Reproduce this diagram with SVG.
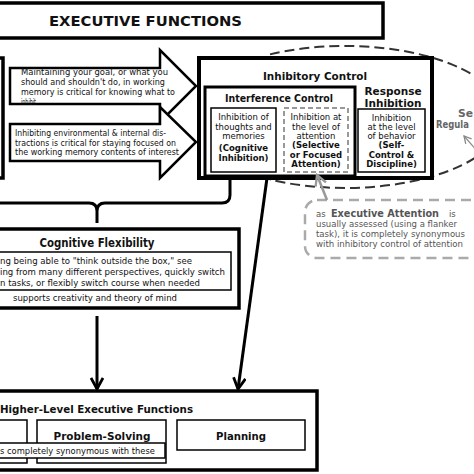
<svg xmlns="http://www.w3.org/2000/svg" width="474" height="474" viewBox="0 0 474 474">
<style>
text{font-family:"DejaVu Sans","Liberation Sans",sans-serif;fill:#111}
.b{font-weight:bold}
.box{fill:#fff;stroke:#000;stroke-width:3.5}
.thin{fill:#fff;stroke:#000;stroke-width:1.5}
.arr{fill:#fff;stroke:#000;stroke-width:2.5;stroke-linejoin:miter}
.t8{font-size:8px}
.t85{font-size:8.5px}
.mid{text-anchor:middle}
.con{fill:none;stroke:#000;stroke-width:3}
.gray{fill:#666}
</style>
<defs>
<marker id="ah" viewBox="0 0 14 14" refX="12" refY="7" markerWidth="14" markerHeight="14" markerUnits="userSpaceOnUse" orient="auto">
<path d="M1,1 L12,7 L1,13" fill="none" stroke="#000" stroke-width="2.8"/>
</marker>
<marker id="ahg" viewBox="0 0 14 14" refX="12" refY="7" markerWidth="13" markerHeight="13" markerUnits="userSpaceOnUse" orient="auto">
<path d="M1,1 L12,7 L1,13" fill="none" stroke="#999" stroke-width="2.5"/>
</marker>
<marker id="ahs" viewBox="0 0 14 14" refX="12" refY="7" markerWidth="9" markerHeight="9" markerUnits="userSpaceOnUse" orient="auto">
<path d="M1,1 L12,7 L1,13" fill="none" stroke="#888" stroke-width="2"/>
</marker>
</defs>

<g id="title">
<rect class="box" x="-20" y="3" width="403" height="35"/>
<text class="b" x="49" y="26" font-size="14" textLength="193" lengthAdjust="spacingAndGlyphs">EXECUTIVE FUNCTIONS</text>
</g>

<g id="working-memory">
<rect class="box" x="-60" y="58" width="63" height="120"/>
</g>

<g id="self-regulation">
<path d="M270,54.4 A159,71 0 1 1 270,179.6" fill="none" stroke="#333" stroke-width="2" stroke-dasharray="10 5"/>
<text class="b gray" x="458" y="117" font-size="10" textLength="15" lengthAdjust="spacingAndGlyphs">Se</text>
<text class="b gray" x="436" y="128" font-size="10" textLength="33" lengthAdjust="spacingAndGlyphs">Regula</text>
</g>

<g id="arrow-goal">
<polygon class="arr" points="10,68 160,68 160,50 196,86 160,122 160,104 10,104"/>
<text class="t85" x="21" y="75" textLength="147" lengthAdjust="spacingAndGlyphs">Maintaining your goal, or what you</text>
<text class="t85" x="21" y="85" textLength="144" lengthAdjust="spacingAndGlyphs">should and shouldn't do, in working</text>
<text class="t85" x="21" y="95" textLength="154" lengthAdjust="spacingAndGlyphs">memory is critical for knowing what to</text>
<text class="t85" x="21" y="105" textLength="15" lengthAdjust="spacingAndGlyphs">inhibit</text>
</g>

<g id="arrow-distractions">
<polygon class="arr" points="10,124 160,124 160,107 196,142 160,178 160,161 10,161"/>
<text class="t85" x="15" y="136" textLength="151" lengthAdjust="spacingAndGlyphs">Inhibiting environmental &amp; internal dis-</text>
<text class="t85" x="15" y="145.5" textLength="161" lengthAdjust="spacingAndGlyphs">tractions is critical for staying focused on</text>
<text class="t85" x="15" y="155" textLength="164" lengthAdjust="spacingAndGlyphs">the working memory contents of interest</text>
</g>

<g id="inhibitory-control">
<rect x="199" y="58" width="233" height="120" fill="#fff" stroke="#000" stroke-width="4"/>
<text class="b mid" x="315" y="80" font-size="10.5" textLength="104" lengthAdjust="spacingAndGlyphs">Inhibitory Control</text>
<rect x="205" y="87" width="150" height="89" fill="#fff" stroke="#000" stroke-width="3"/>
<text class="b mid" x="279" y="102" font-size="10.5" textLength="108" lengthAdjust="spacingAndGlyphs">Interference Control</text>
<text class="b mid" x="393" y="95" font-size="10.5">Response</text>
<text class="b mid" x="393" y="106.5" font-size="10.5">Inhibition</text>
</g>

<g id="cognitive-inhibition">
<rect class="thin" x="211" y="108" width="65" height="64"/>
<text class="t85 mid" x="243.5" y="120">Inhibition of</text>
<text class="t85 mid" x="243.5" y="129.5">thoughts and</text>
<text class="t85 mid" x="243.5" y="139">memories</text>
<text class="t85 mid b" x="243.5" y="151">(Cognitive</text>
<text class="t85 mid b" x="243.5" y="161">Inhibition)</text>
</g>

<g id="selective-attention">
<rect x="284" y="108" width="64" height="64" fill="#fff" stroke="#999" stroke-width="2" stroke-dasharray="5 3"/>
<text class="t85 mid" x="316" y="120">Inhibition at</text>
<text class="t85 mid" x="316" y="129.5">the level of</text>
<text class="t85 mid" x="316" y="139">attention</text>
<text class="t85 mid b" x="316" y="148">(Selective</text>
<text class="t85 mid b" x="316" y="157.5">or Focused</text>
<text class="t85 mid b" x="316" y="167">Attention)</text>
</g>

<g id="self-control">
<rect class="thin" x="358" y="109" width="67" height="63"/>
<text class="t85 mid" x="391.5" y="120.5">Inhibition</text>
<text class="t85 mid" x="391.5" y="130">at the level</text>
<text class="t85 mid" x="391.5" y="139">of behavior</text>
<text class="t85 mid b" x="391.5" y="148">(Self-</text>
<text class="t85 mid b" x="391.5" y="157.5">Control &amp;</text>
<text class="t85 mid b" x="391.5" y="167">Discipline)</text>
</g>

<g id="executive-attention">
<rect x="305" y="200" width="200" height="58" rx="12" fill="#fff" stroke="#aaa" stroke-width="2.5" stroke-dasharray="10 6"/>
<text x="316" y="217" font-size="8.5" style="fill:#555">as<tspan x="331" class="b" font-size="9.7" style="fill:#555">Executive Attention</tspan><tspan x="449">is</tspan></text>
<text class="t85" x="316" y="227" style="fill:#555" textLength="141" lengthAdjust="spacingAndGlyphs">usually assessed (using a flanker</text>
<text class="t85" x="316" y="237" style="fill:#555" textLength="149" lengthAdjust="spacingAndGlyphs">task), it is completely synonymous</text>
<text class="t85" x="316" y="247" style="fill:#555" textLength="147" lengthAdjust="spacingAndGlyphs">with inhibitory control of attention</text>
</g>

<g id="cognitive-flexibility">
<rect class="box" x="-30" y="229" width="269" height="79"/>
<text class="b mid" x="97" y="247" font-size="11.5" textLength="115" lengthAdjust="spacingAndGlyphs">Cognitive Flexibility</text>
<rect class="thin" x="-30" y="252" width="261" height="38"/>
<text class="t85" x="0" y="263.5" textLength="192" lengthAdjust="spacingAndGlyphs">ng being able to "think outside the box," see</text>
<text class="t85" x="0" y="274.5" textLength="225" lengthAdjust="spacingAndGlyphs">ing from many different perspectives, quickly switch</text>
<text class="t85" x="0" y="285.5" textLength="200" lengthAdjust="spacingAndGlyphs">n tasks, or flexibly switch course when needed</text>
<text class="t85" x="13" y="300.5" textLength="164" lengthAdjust="spacingAndGlyphs">supports creativity and theory of mind</text>
</g>

<g id="higher-level">
<rect class="box" x="-30" y="391" width="347" height="79"/>
<text class="b" x="0" y="413" font-size="10.5" textLength="193" lengthAdjust="spacingAndGlyphs">Higher-Level Executive Functions</text>
<rect class="thin" x="-30" y="420" width="57" height="43"/>
<rect class="thin" x="37" y="420" width="129" height="43"/>
<text class="b mid" x="102" y="440" font-size="10.5" textLength="97" lengthAdjust="spacingAndGlyphs">Problem-Solving</text>
<rect class="thin" x="177" y="420" width="128" height="30"/>
<text class="b mid" x="241" y="440" font-size="10.5" textLength="50" lengthAdjust="spacingAndGlyphs">Planning</text>
<rect class="thin" x="-30" y="443" width="195" height="15"/>
<text class="t8" x="0" y="454" textLength="155" lengthAdjust="spacingAndGlyphs">s completely synonymous with these</text>
</g>

<g id="connectors">
<path class="con" d="M-10,203 L89,203 Q97,203 97,211 L97,223 L97,211 Q97,203 105,203 L222,203 Q230,203 230,195 L230,178"/>
<line class="con" x1="97" y1="316" x2="97" y2="389" marker-end="url(#ah)"/>
<line class="con" x1="267" y1="178" x2="238" y2="389" marker-end="url(#ah)"/>
<line x1="327" y1="200" x2="317" y2="175" stroke="#999" stroke-width="2.5" marker-end="url(#ahg)"/>
<line x1="478" y1="152" x2="464" y2="136" stroke="#888" stroke-width="1.2" marker-end="url(#ahs)"/>
</g>
</svg>
